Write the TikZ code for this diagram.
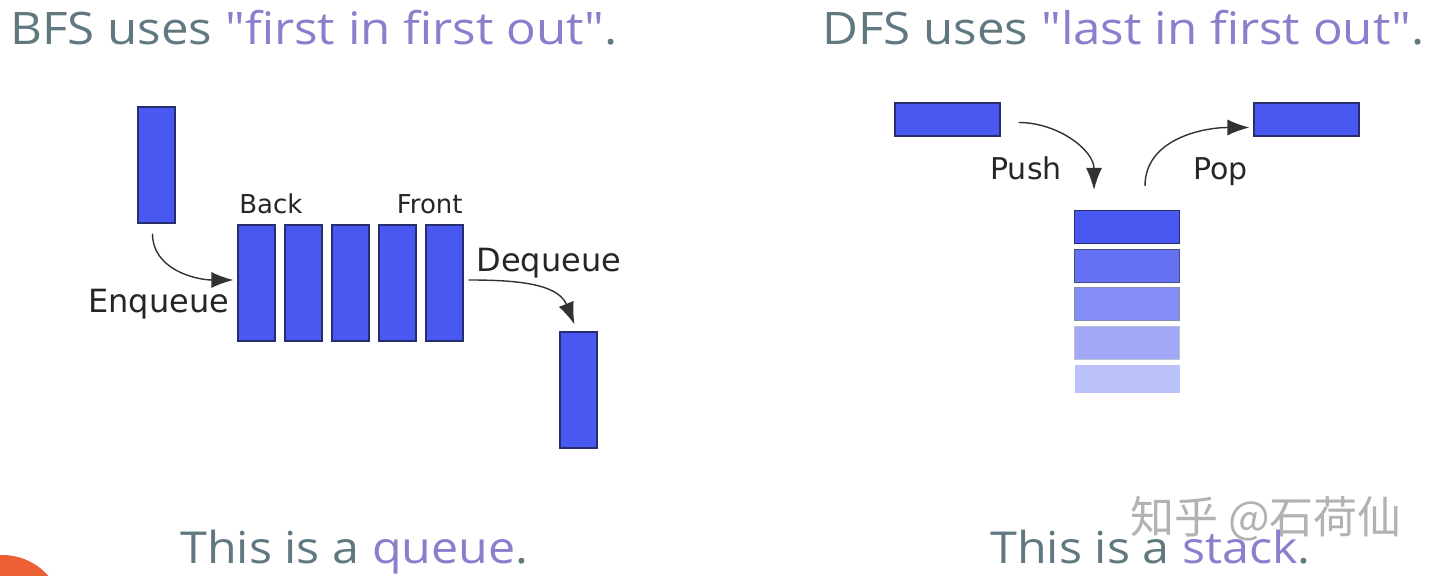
\documentclass[tikz,border=0pt]{standalone}
\usepackage{fontspec}
\setmainfont{Open Sans}
\newfontfamily\titlefont[FakeStretch=1.1, Ligatures=TeXOff]{Open Sans}
\newfontfamily\djfont{DejaVu Sans}
\newfontfamily\cjk{Noto Sans CJK SC}
\usetikzlibrary{arrows.meta}
\definecolor{txtgray}{RGB}{96,120,128}
\definecolor{txtpurple}{RGB}{140,125,205}
\definecolor{boxblue}{RGB}{72,88,240}
\definecolor{boxedge}{RGB}{40,45,110}
\definecolor{arrowc}{RGB}{50,50,50}
\definecolor{orangec}{RGB}{235,95,50}
\definecolor{wmark}{RGB}{178,178,178}
\tikzset{
  qbox/.style={draw=boxedge, line width=0.6pt, fill=boxblue, minimum width=18.5pt, minimum height=58pt, inner sep=0pt},
  sbox/.style={draw=boxedge, line width=0.6pt, fill=boxblue, minimum width=52.5pt, minimum height=16.5pt, inner sep=0pt},
  title/.style={anchor=base west, inner sep=0pt, font=\titlefont\fontsize{22.4}{27}\selectfont},
  caption/.style={anchor=base west, inner sep=0pt, font=\titlefont\fontsize{22}{26}\selectfont},
  lbl/.style={inner sep=0pt, font=\djfont\fontsize{13}{15}\selectfont, text=black!85},
  biglbl/.style={inner sep=0pt, font=\djfont\fontsize{16}{19}\selectfont, text=black!85},
  midlbl/.style={inner sep=0pt, font=\djfont\fontsize{15}{18}\selectfont, text=black!85},
  flow/.style={draw=arrowc, line width=0.7pt, -{Latex[length=11pt,width=8pt]}}
}
\begin{document}
\begin{tikzpicture}[x=0.5pt,y=-0.5pt]
\useasboundingbox[fill=white] (0,0) rectangle (1434,576);
\begin{scope}
\clip (0,0) rectangle (1434,576);
\fill[orangec] (2,617) circle[radius=31pt];
\end{scope}
% titles
\node[title] (t1) at (10,45) {\textcolor{txtgray}{BFS uses }\textcolor{txtpurple}{"first in first out"}\textcolor{txtgray}{.}};
\node[title] (t2) at (822,45) {\textcolor{txtgray}{DFS uses }\textcolor{txtpurple}{"last in first out"}\textcolor{txtgray}{.}};
% queue
\node[qbox] (top) at (156.5,165) {};
\node[qbox] (q1) at (256.5,283) {};
\node[qbox] (q2) at (303.5,283) {};
\node[qbox] (q3) at (350.5,283) {};
\node[qbox] (q4) at (397.5,283) {};
\node[qbox] (q5) at (444.5,283) {};
\node[qbox] (bot) at (578.5,390) {};
\node[lbl, anchor=base west] (back) at (239,214) {Back};
\node[lbl, anchor=base east] (front) at (463,214) {Front};
\node[biglbl, anchor=base west] (enq) at (88,313) {Enqueue};
\node[biglbl, anchor=base west] (deq) at (476,272) {Dequeue};
\coordinate (enqs) at ([xshift=-2pt,yshift=-5pt]top.south);
\coordinate (enqe) at ([xshift=-2pt,yshift=1.5pt]q1.west);
\draw[flow] (enqs) to[out=-90,in=180] (enqe);
\coordinate (deqs) at ([xshift=2.5pt,yshift=1.5pt]q5.east);
\coordinate (deqe) at ([xshift=-2pt,yshift=3.5pt]bot.north);
\draw[flow] (deqs) to[out=0,in=112] (deqe);
% stack
\node[sbox] (sl) at (947.5,119.5) {};
\node[sbox] (sr) at (1306.5,119.5) {};
\node[sbox] (s1) at (1127,227) {};
\node[sbox, fill=boxblue!85!white, draw=boxedge!85!white] (s2) at (1127,266) {};
\node[sbox, fill=boxblue!68!white, draw=boxedge!55!white] (s3) at (1127,304) {};
\node[sbox, fill=boxblue!52!white, draw=boxedge!30!white] (s4) at (1127,343) {};
\node[sbox, fill=boxblue!37!white, draw=none, minimum height=14pt] (s5) at (1127,379) {};
\node[midlbl, anchor=base west] (push) at (990,180) {Push};
\node[midlbl, anchor=base west] (pop) at (1193,180) {Pop};
\coordinate (pushs) at ([xshift=9pt,yshift=-1.5pt]sl.east);
\coordinate (pushe) at ([xshift=-16.5pt,yshift=10pt]s1.north);
\draw[flow] (pushs) to[out=0,in=90] (pushe);
\coordinate (pops) at ([xshift=9pt,yshift=12pt]s1.north);
\coordinate (pope) at ([xshift=-2pt,yshift=-4pt]sr.west);
\draw[flow] (pops) to[out=90,in=180] (pope);
% bottom captions
\node[caption] (c1) at (180,563) {\textcolor{txtgray}{This is a }\textcolor{txtpurple}{queue}\textcolor{txtgray}{.}};
\node[anchor=base west, inner sep=0pt, font=\cjk\fontsize{22}{25}\selectfont, text=wmark] (wm) at (1130,534) {知乎 @石荷仙};
\node[caption] (c2) at (990,563) {\textcolor{txtgray}{This is a }\textcolor{txtpurple}{stack}\textcolor{txtgray}{.}};
\end{tikzpicture}
\end{document}
